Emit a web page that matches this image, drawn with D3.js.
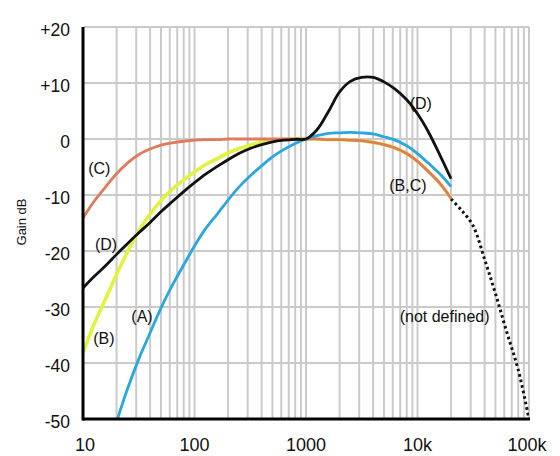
<!DOCTYPE html>
<html>
<head>
<meta charset="utf-8">
<script src="https://cdn.jsdelivr.net/npm/d3@7"></script>
<style>
  body { margin: 0; background: #fff; }
  text { font-family: "Liberation Sans", Arial, sans-serif; fill: #111; }
</style>
</head>
<body>
<div id="chart"></div>
<script>
// third-octave frequencies (Hz)
const freqs = [10, 12.5, 16, 20, 25, 31.5, 40, 50, 63, 80, 100, 125, 160, 200, 250, 315, 400, 500, 630, 800,
               1000, 1250, 1600, 2000, 2500, 3150, 4000, 5000, 6300, 8000, 10000, 12500, 16000, 20000];

const gainA = [null, null, null, -50.5, -44.7, -39.4, -34.6, -30.2, -26.2, -22.5, -19.1, -16.1, -13.4, -10.9, -8.6, -6.6, -4.8, -3.2, -1.9, -0.8,
               0, 0.6, 1.0, 1.1, 1.2, 1.1, 0.9, 0.4, -0.2, -1.2, -2.6, -4.3, -6.3, -8.5];
const gainB = [-38.2, -33.2, -28.5, -24.2, -20.2, -16.5, -13.4, -11.0, -9.0, -7.3, -5.9, -4.6, -3.5, -2.5, -1.7, -1.1, -0.6, -0.3, -0.1, 0,
               0, 0, -0.1, -0.1, -0.2, -0.3, -0.6, -1.0, -1.6, -2.6, -4.0, -5.8, -8.0, -10.6];
const gainC = [-14.1, -11.2, -8.5, -6.2, -4.3, -2.8, -1.8, -1.1, -0.7, -0.4, -0.2, -0.1, -0.1, 0, 0, 0, 0, 0, 0, 0,
               0, 0, -0.1, -0.1, -0.2, -0.3, -0.6, -1.0, -1.6, -2.6, -4.0, -5.8, -8.0, -10.6];
const gainD = [-26.6, -24.6, -22.6, -20.6, -18.7, -16.8, -14.9, -13.0, -11.2, -9.4, -7.8, -6.3, -4.9, -3.7, -2.6, -1.7, -1.0, -0.5, -0.2, -0.05,
               0, 1.6, 5.0, 8.4, 10.3, 11.0, 11.0, 10.2, 8.9, 7.0, 4.5, 1.3, -3.0, -7.1];

// undefined region above 20 kHz
const extFreqs = [20000, 25000, 31500, 40000, 50000, 63000, 80000, 100000];
const extGain = [-10.7, -12.8, -15.5, -21.5, -27.6, -34.4, -41.2, -50];

const yTicks = [20, 10, 0, -10, -20, -30, -40, -50];
const yTickLabels = ["+20", "+10", "0", "-10", "-20", "-30", "-40", "-50"];
const xTicks = [10, 100, 1000, 10000, 100000];
const xTickLabels = ["10", "100", "1000", "10k", "100k"];

const curveLabels = [
  { text: "(C)", f: 14, g: -5.3 },
  { text: "(D)", f: 16.1, g: -18.9 },
  { text: "(B)", f: 15.4, g: -35.6 },
  { text: "(A)", f: 33.8, g: -31.6 },
  { text: "(D)", f: 10700, g: 6.4 },
  { text: "(B,C)", f: 8200, g: -8.2 },
  { text: "(not defined)", f: 17500, g: -31.6 }
];

const W = 560, H = 456;
const plot = { left: 83, right: 529, top: 27, bottom: 419 };

const svg = d3.select("#chart")
  .append("svg")
  .attr("width", W)
  .attr("height", H);

const x = d3.scaleLog().domain([10, 100000]).range([plot.left, plot.right]);
const y = d3.scaleLinear().domain([-50, 20]).range([plot.bottom, plot.top]);

// grid
const minor = [];
for (let d = 10; d < 100000; d *= 10) {
  for (let k = 1; k < 10; k++) minor.push(d * k);
}
minor.push(100000);

svg.append("g")
  .attr("stroke", "#cacaca")
  .attr("stroke-width", 2)
  .selectAll("line")
  .data(minor)
  .join("line")
  .attr("x1", d => x(d)).attr("x2", d => x(d))
  .attr("y1", y(20)).attr("y2", y(-50));

svg.append("g")
  .attr("stroke", "#cacaca")
  .attr("stroke-width", 2)
  .selectAll("line")
  .data(yTicks)
  .join("line")
  .attr("x1", x(10)).attr("x2", x(100000))
  .attr("y1", d => y(d)).attr("y2", d => y(d));

// curves
svg.append("clipPath").attr("id", "plotclip")
  .append("rect")
  .attr("x", plot.left).attr("y", plot.top)
  .attr("width", plot.right - plot.left).attr("height", plot.bottom - plot.top);

const line = d3.line()
  .defined(d => d[1] != null)
  .x(d => x(d[0]))
  .y(d => y(d[1]))
  .curve(d3.curveCatmullRom.alpha(0.5));

const series = [
  { values: gainB, color: "#e2f240", width: 3.6 },
  { values: gainC, color: "#e07a5c", width: 2.8 },
  { values: gainA, color: "#2ba6de", width: 2.8 },
  { values: gainD, color: "#111", width: 2.8 }
];

const curves = svg.append("g").attr("clip-path", "url(#plotclip)");

curves.selectAll("path.curve")
  .data(series)
  .join("path")
  .attr("class", "curve")
  .attr("fill", "none")
  .attr("stroke", d => d.color)
  .attr("stroke-width", d => d.width)
  .attr("d", d => line(freqs.map((f, i) => [f, d.values[i]])));

curves.append("path")
  .attr("fill", "none")
  .attr("stroke", "#111")
  .attr("stroke-width", 3)
  .attr("stroke-dasharray", "2.6 3")
  .attr("d", line(extFreqs.map((f, i) => [f, extGain[i]])));

// axes
svg.append("line")
  .attr("x1", plot.left).attr("x2", plot.left)
  .attr("y1", plot.top).attr("y2", plot.bottom + 1.5)
  .attr("stroke", "#000").attr("stroke-width", 3);
svg.append("line")
  .attr("x1", plot.left).attr("x2", plot.right + 1)
  .attr("y1", plot.bottom).attr("y2", plot.bottom)
  .attr("stroke", "#000").attr("stroke-width", 3);

svg.append("g")
  .selectAll("text")
  .data(yTicks)
  .join("text")
  .attr("x", 70)
  .attr("y", d => y(d) + 3)
  .attr("dy", "0.35em")
  .attr("text-anchor", "end")
  .attr("font-size", 17.5)
  .text((d, i) => yTickLabels[i]);

svg.append("g")
  .selectAll("text")
  .data(xTicks)
  .join("text")
  .attr("x", (d, i) => x(d) + (i === 0 ? 2 : i === 4 ? -2 : 0))
  .attr("y", 445)
  .attr("dy", "0.35em")
  .attr("text-anchor", "middle")
  .attr("font-size", 18)
  .text((d, i) => xTickLabels[i]);

svg.append("text")
  .attr("transform", "translate(26,222) rotate(-90)")
  .attr("text-anchor", "middle")
  .attr("font-size", 13)
  .text("Gain dB");

svg.append("g")
  .selectAll("text")
  .data(curveLabels)
  .join("text")
  .attr("x", d => x(d.f))
  .attr("y", d => y(d.g))
  .attr("dy", "0.35em")
  .attr("text-anchor", "middle")
  .attr("font-size", 16)
  .attr("fill", "#2a2a2a")
  .text(d => d.text);
</script>
</body>
</html>
